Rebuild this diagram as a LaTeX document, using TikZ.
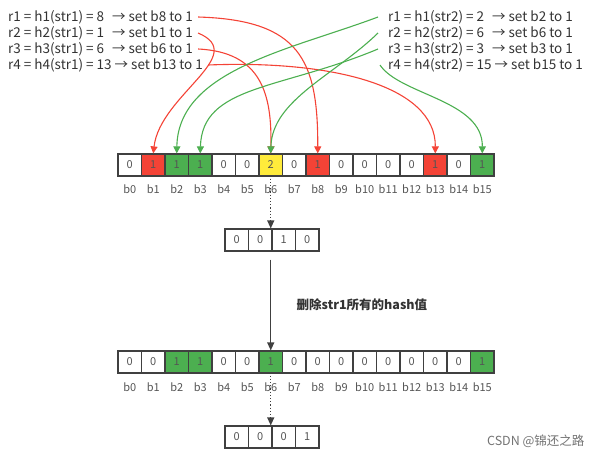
\documentclass[tikz,border=0pt]{standalone}
\usepackage{fontspec}
\setmainfont{Noto Sans CJK SC}
\usetikzlibrary{positioning,arrows.meta}
\definecolor{hred}{HTML}{F44336}
\definecolor{hgreen}{HTML}{4CAF50}
\definecolor{hyellow}{HTML}{FFEB3B}
\definecolor{cgray}{HTML}{555555}

\begin{document}
\begin{tikzpicture}[x=1pt,y=-1pt,
    font=\fontsize{13.5}{15}\selectfont,
    cell/.style={draw=black!75,line width=1.2pt,minimum width=23.5pt,minimum height=22pt,
      inner sep=0pt,text=cgray,font=\fontsize{11}{12}\selectfont},
    blab/.style={text=cgray,font=\fontsize{11}{12}\selectfont},
    line/.style={anchor=west,inner sep=0pt,text=black!80},
    hashR/.style={hred,line width=1.1pt,-{Triangle[width=7pt,length=7pt]}},
    hashG/.style={hgreen,line width=1.1pt,-{Triangle[width=7pt,length=7pt]}},
    down/.style={black!75,line width=1.2pt,-{Triangle[width=7pt,length=8pt]}}]
  \useasboundingbox (0,0) rectangle (600,459);
  % hash lines
  \node[line] (L1) at (8,17) {r1 = h1(str1) = 8\hspace{8pt}→ set b8 to 1};
  \node[line] (L2) at (8,33) {r2 = h2(str1) = 1\hspace{8pt}→ set b1 to 1};
  \node[line] (L3) at (8,49) {r3 = h3(str1) = 6\hspace{8pt}→ set b6 to 1};
  \node[line] (L4) at (8,65) {r4 = h4(str1) = 13 → set b13 to 1};
  \node[line] (R1) at (388,17) {r1 = h1(str2) = 2\hspace{8pt}→ set b2 to 1};
  \node[line] (R2) at (388,33) {r2 = h2(str2) = 6\hspace{8pt}→ set b6 to 1};
  \node[line] (R3) at (388,49) {r3 = h3(str2) = 3\hspace{8pt}→ set b3 to 1};
  \node[line] (R4) at (388,65) {r4 = h4(str2) = 15 → set b15 to 1};
  % bit arrays
  \foreach \v [count=\i from 0] in {0,1,1,1,0,0,2,0,1,0,0,0,0,1,0,1}
    \node[cell] (t\i) at (129.75+23.5*\i,165) {\v};
  \foreach \i in {1,8,13} \node[cell,fill=hred] at (t\i) {1};
  \foreach \i in {2,3,15} \node[cell,fill=hgreen] at (t\i) {1};
  \node[cell,fill=hyellow] at (t6) {2};
  \foreach \v [count=\i from 0] in {0,0,1,1,0,0,1,0,0,0,0,0,0,0,0,1}
    \node[cell] (u\i) at (129.75+23.5*\i,362) {\v};
  \foreach \i in {2,3,6,15} \node[cell,fill=hgreen] at (u\i) {1};
  \foreach \i in {0,...,15} {
    \node[blab] (tl\i) at (129.75+23.5*\i,189) {b\i};
    \node[blab] (ul\i) at (129.75+23.5*\i,387) {b\i};
  }
  \foreach \v [count=\i from 0] in {0,0,1,0}
    \node[cell] (s\i) at (236.75+23.5*\i,240) {\v};
  \foreach \v [count=\i from 0] in {0,0,0,1}
    \node[cell] (w\i) at (236.75+23.5*\i,437) {\v};
  % str1
  \draw[hashR] ([xshift=5pt]L1.east) .. controls (300,20) and (318,60) .. (t8.north);
  \draw[hashR] ([xshift=5pt]L2.east) .. controls (250,55) and (160,95) .. (t1.north);
  \draw[hashR] ([xshift=5pt]L3.east) .. controls (262,52) and (272,95) .. (t6.north);
  \draw[hashR] ([xshift=5pt]L4.east) .. controls (330,60) and (436,85) .. (t13.north);
  % str2
  \draw[hashG] ([xshift=-10pt]R1.west) .. controls (290,50) and (178,70) .. (t2.north);
  \draw[hashG] ([xshift=-10pt]R2.west) .. controls (335,75) and (272,100) .. (t6.north);
  \draw[hashG] ([xshift=-10pt]R3.west) .. controls (280,90) and (202,85) .. (t3.north);
  \draw[hashG] ([xshift=-8pt]R4.west) .. controls (400,95) and (483,100) .. (t15.north);
  % delete
  \draw[down,dotted] ([yshift=-2pt]t6.south) -- (t6.south |- s1.north);
  \draw[down] ([yshift=-8pt]t6.south |- s1.south) -- node[right=22pt,font=\bfseries\fontsize{12.5}{14}\selectfont,text=black!80] {删除str1所有的hash值} (u6.north);
  \draw[down,dotted] ([yshift=-2pt]u6.south) -- (u6.south |- w1.north);
  \node[text=black!55,anchor=east,font=\fontsize{12.5}{14}\selectfont] (csdn) at (588,441) {CSDN @锦还之路};
\end{tikzpicture}
\end{document}
